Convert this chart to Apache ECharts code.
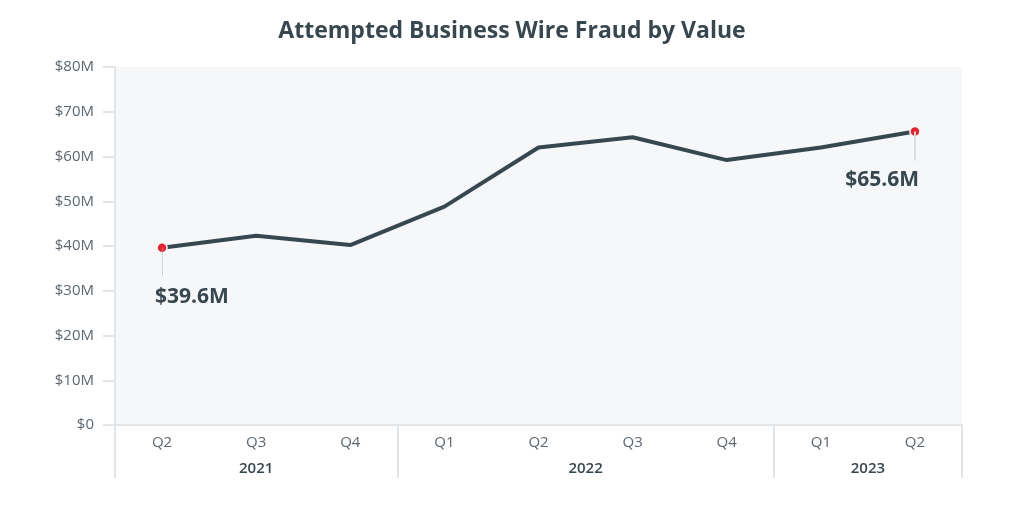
<!DOCTYPE html>
<html lang="en">
<head>
    <meta charset="UTF-8">
    <title>Attempted Business Wire Fraud by Value</title>
    <script src="https://cdn.jsdelivr.net/npm/echarts@6/dist/echarts.min.js"></script>
    <style>
        html, body { margin: 0; padding: 0; background: #fff; }
        #chart { width: 1024px; height: 506px; }
    </style>
</head>
<body>
<div id="chart"></div>
<script type="text/javascript">
    // data (values in $M)
    var quarters = ['Q2', 'Q3', 'Q4', 'Q1', 'Q2', 'Q3', 'Q4', 'Q1', 'Q2'];
    var values = [39.6, 42.3, 40.2, 48.8, 62.0, 64.3, 59.2, 62.0, 65.6];
    var years = ['2021', '2022', '2023'];
    var quartersPerYear = [3, 4, 2];
    var yTicks = [0, 10, 20, 30, 40, 50, 60, 70, 80];

    // year bands on a value axis that lines up with the category bands
    var yearBounds = [-0.5];
    var yearCenters = [];
    quartersPerYear.forEach(function (n) {
        var start = yearBounds[yearBounds.length - 1];
        yearCenters.push(start + n / 2);
        yearBounds.push(start + n);
    });

    var dark = '#37474f';
    var gridGray = '#e3e6e9';
    var font = '"Open Sans", "Noto Sans", sans-serif';

    var lastIdx = values.length - 1;
    var seriesData = values.map(function (v, i) {
        if (i === 0 || i === lastIdx) {
            return {
                value: v,
                symbol: 'circle',
                symbolSize: 10,
                itemStyle: { color: '#e8232b', borderColor: '#fff', borderWidth: 1.5 },
                label: {
                    show: true,
                    position: 'bottom',
                    distance: i === 0 ? 33 : 32,
                    align: i === 0 ? 'left' : 'right',
                    offset: i === 0 ? [-7, 0] : [4, 0],
                    formatter: '$' + v.toFixed(1) + 'M',
                    color: dark,
                    fontSize: 21,
                    fontWeight: 'bold',
                    fontFamily: font
                }
            };
        }
        return { value: v, symbol: 'none' };
    });

    var chart = echarts.init(document.getElementById('chart'));
    chart.setOption({
        animation: false,
        title: {
            text: 'Attempted Business Wire Fraud by Value',
            left: 'center',
            top: 15,
            textStyle: { color: dark, fontSize: 23, fontWeight: 'bold', fontFamily: font }
        },
        grid: {
            left: 115, right: 62, top: 67, bottom: 81,
            show: true, backgroundColor: '#f6f7f9', borderWidth: 0
        },
        xAxis: [{
            type: 'category',
            data: quarters,
            boundaryGap: true,
            axisLine: { lineStyle: { color: gridGray, width: 2 } },
            axisTick: { show: false },
            axisLabel: { color: '#5d6770', fontSize: 15, fontFamily: font, margin: 10 }
        }, {
            type: 'value',
            position: 'bottom',
            min: -0.5,
            max: quarters.length - 0.5,
            splitLine: { show: false },
            axisLine: { show: false },
            axisTick: {
                show: true,
                customValues: yearBounds,
                length: 53,
                lineStyle: { color: gridGray, width: 2 }
            },
            axisLabel: {
                customValues: yearCenters,
                formatter: function (val) {
                    var k = yearCenters.indexOf(val);
                    return k >= 0 ? years[k] : '';
                },
                color: dark,
                fontSize: 15,
                fontWeight: 600,
                fontFamily: font,
                margin: 36
            }
        }],
        yAxis: {
            type: 'value',
            min: 0,
            max: 80,
            interval: 10,
            splitLine: { show: false },
            axisLine: { show: true, onZero: false, lineStyle: { color: gridGray, width: 2 } },
            axisTick: { show: true, length: 12, lineStyle: { color: gridGray, width: 2 } },
            axisLabel: {
                customValues: yTicks,
                formatter: function (v) { return v === 0 ? '$0' : '$' + v + 'M'; },
                color: '#5d6770',
                fontSize: 15,
                fontFamily: font,
                margin: 21
            }
        },
        series: [{
            type: 'line',
            xAxisIndex: 0,
            data: seriesData,
            lineStyle: { color: dark, width: 4 },
            itemStyle: { color: dark },
            z: 3,
            markLine: {
                silent: true,
                symbol: 'none',
                label: { show: false },
                data: [
                    [{ coord: [0, values[0]], lineStyle: { type: 'dotted', color: '#aab0b5', width: 1 } },
                        { coord: [0, values[0] - 6.3] }],
                    [{ coord: [lastIdx, values[lastIdx]], lineStyle: { type: 'solid', color: '#d9dcdf', width: 2 } },
                        { coord: [lastIdx, values[lastIdx] - 6.5] }]
                ]
            }
        }]
    });
</script>
</body>
</html>
